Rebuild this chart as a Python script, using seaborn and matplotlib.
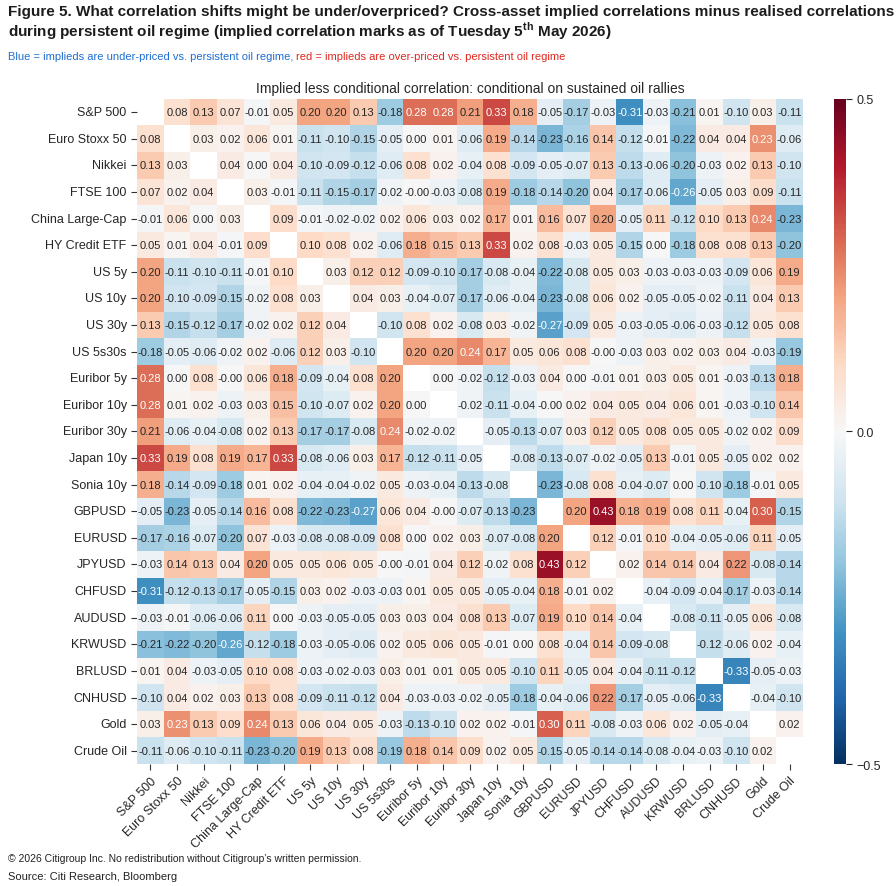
import numpy as np
import pandas as pd
import matplotlib
matplotlib.use("Agg")
import matplotlib.pyplot as plt
import seaborn as sns

nan = np.nan

assets = ["S&P 500", "Euro Stoxx 50", "Nikkei", "FTSE 100", "China Large-Cap",
          "HY Credit ETF", "US 5y", "US 10y", "US 30y", "US 5s30s",
          "Euribor 5y", "Euribor 10y", "Euribor 30y", "Japan 10y", "Sonia 10y",
          "GBPUSD", "EURUSD", "JPYUSD", "CHFUSD", "AUDUSD", "KRWUSD",
          "BRLUSD", "CNHUSD", "Gold", "Crude Oil"]

# implied less conditional correlation, one list per row (diagonal left blank)
spx = [nan, 0.08, 0.13, 0.07, -0.01, 0.05, 0.20, 0.20, 0.13, -0.18, 0.28, 0.28, 0.21, 0.33, 0.18, -0.05, -0.17, -0.03, -0.31, -0.03, -0.21, 0.01, -0.10, 0.03, -0.11]
sx5e = [0.08, nan, 0.03, 0.02, 0.06, 0.01, -0.11, -0.10, -0.15, -0.05, 0.00, 0.01, -0.06, 0.19, -0.14, -0.23, -0.16, 0.14, -0.12, -0.01, -0.22, 0.04, 0.04, 0.23, -0.06]
nikkei = [0.13, 0.03, nan, 0.04, 0.00, 0.04, -0.10, -0.09, -0.12, -0.06, 0.08, 0.02, -0.04, 0.08, -0.09, -0.05, -0.07, 0.13, -0.13, -0.06, -0.20, -0.03, 0.02, 0.13, -0.10]
ftse = [0.07, 0.02, 0.04, nan, 0.03, -0.01, -0.11, -0.15, -0.17, -0.02, -0.00, -0.03, -0.08, 0.19, -0.18, -0.14, -0.20, 0.04, -0.17, -0.06, -0.26, -0.05, 0.03, 0.09, -0.11]
china = [-0.01, 0.06, 0.00, 0.03, nan, 0.09, -0.01, -0.02, -0.02, 0.02, 0.06, 0.03, 0.02, 0.17, 0.01, 0.16, 0.07, 0.20, -0.05, 0.11, -0.12, 0.10, 0.13, 0.24, -0.23]
hy = [0.05, 0.01, 0.04, -0.01, 0.09, nan, 0.10, 0.08, 0.02, -0.06, 0.18, 0.15, 0.13, 0.33, 0.02, 0.08, -0.03, 0.05, -0.15, 0.00, -0.18, 0.08, 0.08, 0.13, -0.20]
us5 = [0.20, -0.11, -0.10, -0.11, -0.01, 0.10, nan, 0.03, 0.12, 0.12, -0.09, -0.10, -0.17, -0.08, -0.04, -0.22, -0.08, 0.05, 0.03, -0.03, -0.03, -0.03, -0.09, 0.06, 0.19]
us10 = [0.20, -0.10, -0.09, -0.15, -0.02, 0.08, 0.03, nan, 0.04, 0.03, -0.04, -0.07, -0.17, -0.06, -0.04, -0.23, -0.08, 0.06, 0.02, -0.05, -0.05, -0.02, -0.11, 0.04, 0.13]
us30 = [0.13, -0.15, -0.12, -0.17, -0.02, 0.02, 0.12, 0.04, nan, -0.10, 0.08, 0.02, -0.08, 0.03, -0.02, -0.27, -0.09, 0.05, -0.03, -0.05, -0.06, -0.03, -0.12, 0.05, 0.08]
us5s30s = [-0.18, -0.05, -0.06, -0.02, 0.02, -0.06, 0.12, 0.03, -0.10, nan, 0.20, 0.20, 0.24, 0.17, 0.05, 0.06, 0.08, -0.00, -0.03, 0.03, 0.02, 0.03, 0.04, -0.03, -0.19]
eur5 = [0.28, 0.00, 0.08, -0.00, 0.06, 0.18, -0.09, -0.04, 0.08, 0.20, nan, 0.00, -0.02, -0.12, -0.03, 0.04, 0.00, -0.01, 0.01, 0.03, 0.05, 0.01, -0.03, -0.13, 0.18]
eur10 = [0.28, 0.01, 0.02, -0.03, 0.03, 0.15, -0.10, -0.07, 0.02, 0.20, 0.00, nan, -0.02, -0.11, -0.04, -0.00, 0.02, 0.04, 0.05, 0.04, 0.06, 0.01, -0.03, -0.10, 0.14]
eur30 = [0.21, -0.06, -0.04, -0.08, 0.02, 0.13, -0.17, -0.17, -0.08, 0.24, -0.02, -0.02, nan, -0.05, -0.13, -0.07, 0.03, 0.12, 0.05, 0.08, 0.05, 0.05, -0.02, 0.02, 0.09]
jgb10 = [0.33, 0.19, 0.08, 0.19, 0.17, 0.33, -0.08, -0.06, 0.03, 0.17, -0.12, -0.11, -0.05, nan, -0.08, -0.13, -0.07, -0.02, -0.05, 0.13, -0.01, 0.05, -0.05, 0.02, 0.02]
sonia10 = [0.18, -0.14, -0.09, -0.18, 0.01, 0.02, -0.04, -0.04, -0.02, 0.05, -0.03, -0.04, -0.13, -0.08, nan, -0.23, -0.08, 0.08, -0.04, -0.07, 0.00, -0.10, -0.18, -0.01, 0.05]
gbp = [-0.05, -0.23, -0.05, -0.14, 0.16, 0.08, -0.22, -0.23, -0.27, 0.06, 0.04, -0.00, -0.07, -0.13, -0.23, nan, 0.20, 0.43, 0.18, 0.19, 0.08, 0.11, -0.04, 0.30, -0.15]
eur = [-0.17, -0.16, -0.07, -0.20, 0.07, -0.03, -0.08, -0.08, -0.09, 0.08, 0.00, 0.02, 0.03, -0.07, -0.08, 0.20, nan, 0.12, -0.01, 0.10, -0.04, -0.05, -0.06, 0.11, -0.05]
jpy = [-0.03, 0.14, 0.13, 0.04, 0.20, 0.05, 0.05, 0.06, 0.05, -0.00, -0.01, 0.04, 0.12, -0.02, 0.08, 0.43, 0.12, nan, 0.02, 0.14, 0.14, 0.04, 0.22, -0.08, -0.14]
chf = [-0.31, -0.12, -0.13, -0.17, -0.05, -0.15, 0.03, 0.02, -0.03, -0.03, 0.01, 0.05, 0.05, -0.05, -0.04, 0.18, -0.01, 0.02, nan, -0.04, -0.09, -0.04, -0.17, -0.03, -0.14]
aud = [-0.03, -0.01, -0.06, -0.06, 0.11, 0.00, -0.03, -0.05, -0.05, 0.03, 0.03, 0.04, 0.08, 0.13, -0.07, 0.19, 0.10, 0.14, -0.04, nan, -0.08, -0.11, -0.05, 0.06, -0.08]
krw = [-0.21, -0.22, -0.20, -0.26, -0.12, -0.18, -0.03, -0.05, -0.06, 0.02, 0.05, 0.06, 0.05, -0.01, 0.00, 0.08, -0.04, 0.14, -0.09, -0.08, nan, -0.12, -0.06, 0.02, -0.04]
brl = [0.01, 0.04, -0.03, -0.05, 0.10, 0.08, -0.03, -0.02, -0.03, 0.03, 0.01, 0.01, 0.05, 0.05, -0.10, 0.11, -0.05, 0.04, -0.04, -0.11, -0.12, nan, -0.33, -0.05, -0.03]
cnh = [-0.10, 0.04, 0.02, 0.03, 0.13, 0.08, -0.09, -0.11, -0.12, 0.04, -0.03, -0.03, -0.02, -0.05, -0.18, -0.04, -0.06, 0.22, -0.17, -0.05, -0.06, -0.33, nan, -0.04, -0.10]
gold = [0.03, 0.23, 0.13, 0.09, 0.24, 0.13, 0.06, 0.04, 0.05, -0.03, -0.13, -0.10, 0.02, 0.02, -0.01, 0.30, 0.11, -0.08, -0.03, 0.06, 0.02, -0.05, -0.04, nan, 0.02]
crude = [-0.11, -0.06, -0.10, -0.11, -0.23, -0.20, 0.19, 0.13, 0.08, -0.19, 0.18, 0.14, 0.09, 0.02, 0.05, -0.15, -0.05, -0.14, -0.14, -0.08, -0.04, -0.03, -0.10, 0.02, nan]

rows = [spx, sx5e, nikkei, ftse, china, hy, us5, us10, us30, us5s30s,
        eur5, eur10, eur30, jgb10, sonia10, gbp, eur, jpy, chf, aud, krw,
        brl, cnh, gold, crude]
df = pd.DataFrame(rows, index=assets, columns=assets)

sns.set_style("white")
plt.rcParams['font.family'] = ['Liberation Sans', 'DejaVu Sans']
plt.rcParams['mathtext.fontset'] = 'custom'
plt.rcParams['mathtext.rm'] = 'Liberation Sans'
plt.rcParams['mathtext.bf'] = 'Liberation Sans:bold'

fig = plt.figure(figsize=(8.96, 8.87), dpi=100)
ax = fig.add_axes([0.153, 0.1375, 0.743, 0.75])
cax = fig.add_axes([0.931, 0.1375, 0.013, 0.75])

sns.heatmap(df, cmap="RdBu_r", vmin=-0.5, vmax=0.5, annot=True, fmt=".2f",
            annot_kws={"size": 8}, ax=ax, cbar_ax=cax,
            cbar_kws={"ticks": [-0.5, 0.0, 0.5]})

ax.tick_params(axis='both', which='both', length=4, width=0.8, color='#333333',
               labelsize=9, left=True, bottom=True)
ax.set_xticklabels(assets, rotation=45, ha='right', rotation_mode='anchor')
ax.set_yticklabels(assets, rotation=0)
ax.set_xlabel("")
ax.set_ylabel("")
ax.set_title("Implied less conditional correlation: conditional on sustained oil rallies",
             fontsize=10, pad=5)
cax.tick_params(labelsize=9, length=4)

# header / footer text
fig.text(0.009, 0.9865,
         "Figure 5. What correlation shifts might be under/overpriced? Cross-asset implied correlations minus realised correlations",
         fontsize=11, fontweight='bold', color='#1c1c1c', va='center', ha='left')
fig.text(0.009, 0.965,
         "during persistent oil regime (implied correlation marks as of Tuesday 5$^{\\mathbf{th}}$ May 2026)",
         fontsize=11, fontweight='bold', color='#1c1c1c', va='center', ha='left')
t1 = fig.text(0.009, 0.9355, "Blue = implieds are under-priced vs. persistent oil regime,",
              fontsize=8, color='#1f6fd0', va='center', ha='left')
fig.canvas.draw()
bb = t1.get_window_extent().transformed(fig.transFigure.inverted())
fig.text(bb.x1 + 0.003, 0.9355, "red = implieds are over-priced vs. persistent oil regime",
         fontsize=8, color='#e0281e', va='center', ha='left')

fig.text(0.009, 0.032, "\u00a9 2026 Citigroup Inc. No redistribution without Citigroup\u2019s written permission.",
         fontsize=7.5, color='#222222', va='center', ha='left')
fig.text(0.009, 0.011, "Source: Citi Research, Bloomberg",
         fontsize=8, color='#222222', va='center', ha='left')

fig.savefig("out.png", dpi=100)
